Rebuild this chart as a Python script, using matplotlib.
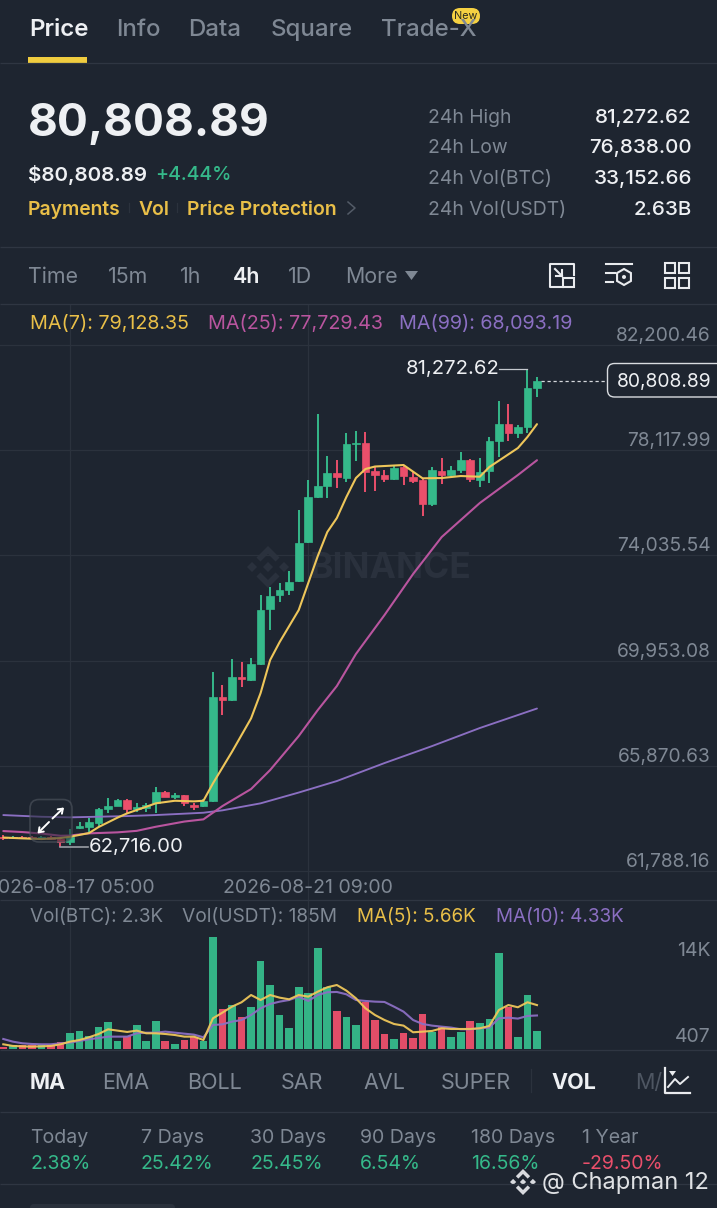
import matplotlib
matplotlib.use("Agg")
import matplotlib.pyplot as plt
from matplotlib.patches import FancyBboxPatch, Polygon, Rectangle, RegularPolygon
from matplotlib.transforms import Affine2D

# ---------- data ----------
candle_index = list(range(-7, 50))
opens = [63120, 63060, 63110, 63090, 63060, 63110, 63020,
         62912, 63443, 63482, 63637, 64192, 64320, 64541, 64192, 64219, 64414,
         64864, 64670, 64724, 64336, 64309, 64514, 68550, 68422, 69327, 69199,
         69820, 71954, 72497, 72692, 73052, 74554, 76313, 76739, 77232, 77050,
         78358, 78408, 77310, 77155, 76999, 77454, 77089, 76961, 76029, 77322,
         77166, 77349, 77737, 76961, 77322, 78474, 79122, 78796, 79006, 80520]
closes = [63060, 63120, 63070, 63050, 63110, 63040, 62900,
          63105, 63532, 63676, 64192, 64320, 64541, 64192, 64283, 64347, 64840,
          64670, 64724, 64414, 64283, 64503, 68550, 68422, 69327, 69226, 69820,
          71915, 72470, 72692, 73014, 74516, 76313, 76739, 77232, 77077, 78358,
          78408, 77283, 77155, 76999, 77415, 77116, 76934, 76029, 77349, 77166,
          77349, 77737, 76988, 77283, 78474, 79122, 78796, 79006, 80520, 80808.89]
highs = [63180, 63150, 63150, 63130, 63150, 63150, 63060,
         63416, 63699, 63831, 64219, 64607, 64580, 64570, 64437, 64414, 65058,
         64890, 64802, 64740, 64437, 64569, 69498, 69004, 70002, 69909, 70052,
         72497, 72820, 72975, 73441, 75796, 76961, 79522, 77880, 77737, 78785,
         78862, 78835, 77477, 77349, 77543, 77504, 77283, 77027, 77454, 77814,
         77504, 78059, 77776, 77814, 78618, 80027, 79910, 79095, 81272.62, 80970]
lows = [63000, 63020, 63030, 63020, 63030, 63010, 62716,
        62795, 63416, 63311, 63505, 64025, 64300, 64049, 64087, 64087, 64025,
        64650, 64569, 64320, 64153, 64283, 64475, 67840, 68395, 68915, 69172,
        69781, 71139, 72226, 72497, 73014, 74516, 76262, 76274, 76662, 76883,
        77698, 76507, 76545, 76883, 76961, 76767, 76844, 75563, 75963, 76805,
        77116, 77232, 76895, 76701, 76856, 77865, 78486, 78579, 78785, 80170]
volumes_k = [0.26, 0.55, 0.55, 0.55, 0.55, 0.55, 0.99,
             2.05, 2.39, 1.70, 2.85, 3.55, 1.02, 1.70, 3.07, 1.06, 3.62,
             1.06, 0.64, 1.19, 1.63, 1.02, 14.43, 5.12, 5.67, 4.10, 5.47,
             11.30, 8.23, 4.39, 2.78, 8.03, 7.26, 12.93, 7.94, 4.90, 4.10,
             3.11, 6.11, 3.75, 1.92, 1.28, 2.14, 1.50, 4.52, 2.27, 2.91,
             1.54, 2.27, 3.67, 3.42, 3.84, 12.38, 5.47, 1.54, 6.95, 2.30]

ma7_i = [-7, -5, -3, -1, 0, 2, 3, 5, 6, 8, 9, 11, 13, 14, 15, 17, 19, 20, 21, 22, 23, 24, 25, 26,
         27, 28, 29, 30, 31, 32, 35, 37, 39, 41, 43, 44, 47, 48, 49]
ma7 = [63086, 63055, 63028, 63067, 63117, 63261, 63494, 63862, 64025, 64282, 64414, 64514, 64491,
       64514, 65189, 66416, 67712, 68694, 69975, 70673, 71294, 71915, 72963, 74011, 74943, 75486,
       76301, 77038, 77388, 77485, 77543, 77027, 77038, 77116, 77089, 77465, 78203, 78630, 79128.35]
ma25_i = [-7, -5, -3, -1, 0, 2, 5, 7, 9, 12, 14, 16, 19, 21, 24, 26, 28, 30, 33, 36, 39, 43, 45, 47, 49]
ma25 = [63338, 63300, 63242, 63156, 63164, 63249, 63288, 63346, 63505, 63707, 63792, 64309, 64968,
        65706, 67025, 68034, 68966, 70208, 71721, 73313, 74748, 76068, 76611, 77155, 77729.43]
ma99_i = [-7, -3, 0, 6, 9, 14, 16, 20, 24, 28, 33, 38, 43, 49]
ma99 = [63959, 63893, 63870, 63920, 63959, 64049, 64142, 64414, 64833, 65279, 65977, 66637, 67336, 68093.19]

vol_ma5 = [0.64, 0.43, 0.38, 0.34, 0.38, 0.43, 0.64,
           0.98, 1.19, 1.54, 1.96, 2.56, 2.39, 2.22, 2.39, 2.05, 2.05,
           1.96, 1.83, 1.62, 1.62, 1.19, 3.97, 4.70, 5.46, 6.02, 6.95,
           6.31, 6.95, 6.61, 6.40, 6.95, 6.74, 7.38, 7.94, 8.23, 7.51,
           6.53, 5.25, 4.39, 3.75, 3.24, 3.03, 2.18, 2.26, 2.35, 2.69,
           2.60, 2.60, 2.60, 2.69, 2.99, 5.03, 5.67, 5.38, 6.02, 5.66]
vol_ma10 = [1.32, 0.98, 0.77, 0.68, 0.64, 0.64, 0.77,
            0.85, 1.07, 1.28, 1.45, 1.62, 1.62, 1.62, 2.05, 2.13, 2.13,
            2.26, 2.13, 2.00, 1.88, 1.54, 3.11, 3.20, 3.54, 3.75, 4.39,
            5.25, 5.80, 6.10, 6.31, 6.74, 6.19, 6.95, 7.30, 7.34, 7.04,
            6.31, 6.19, 6.10, 6.06, 5.46, 4.82, 3.75, 3.24, 3.03, 2.90,
            2.78, 2.56, 2.56, 2.69, 2.78, 3.97, 4.05, 3.93, 4.27, 4.33]

price_ticks = [82200.46, 78117.99, 74035.54, 69953.08, 65870.63, 61788.16]
price_tick_labels = ["82,200.46", "78,117.99", "74,035.54", "69,953.08", "65,870.63", "61,788.16"]
time_ticks = [0, 25]
time_labels = ["2026-08-17 05:00", "2026-08-21 09:00"]
vol_ticks = [14, 0.407]
vol_tick_labels = ["14K", "407"]

tabs = [("Price", 29, True), ("Info", 116, False), ("Data", 188, False), ("Square", 271, False), ("Trade-X", 381, False)]
stats = [("24h High", "81,272.62"), ("24h Low", "76,838.00"), ("24h Vol(BTC)", "33,152.66"), ("24h Vol(USDT)", "2.63B")]
intervals = [("Time", 28, False), ("15m", 108, False), ("1h", 180, False), ("4h", 233, True), ("1D", 288, False), ("More", 345, False)]
indicators = [("MA", 30, True), ("EMA", 102, False), ("BOLL", 187, False), ("SAR", 281, False), ("AVL", 363, False),
              ("SUPER", 441, False), ("VOL", 551, True)]
periods = [("Today", "2.38%", 30), ("7 Days", "25.42%", 141), ("30 Days", "25.45%", 250),
           ("90 Days", "6.54%", 360), ("180 Days", "16.56%", 471), ("1 Year", "-29.50%", 582)]

# ---------- style ----------
BG = "#1e2530"
GRID = "#2b323d"
LINE = "#2f3642"
GREEN = "#35b98a"
RED = "#ea4f6b"
GOLD = "#e9bf48"
PINK = "#b9559f"
PURPLE = "#8b6fc2"
GREY = "#7f8894"
WHITE = "#eef0f3"
WM = "#2a313d"
W, H = 717, 1208
plt.rcParams["font.family"] = ["Inter", "DejaVu Sans"]

fig = plt.figure(figsize=(W / 100, H / 100), dpi=100, facecolor=BG)


def rect(top, bottom):
    return [0, 1 - bottom / H, 1, (bottom - top) / H]


def layer(z):
    a = fig.add_axes([0, 0, 1, 1], zorder=z)
    a.set_xlim(0, W)
    a.set_ylim(H, 0)
    a.axis("off")
    a.patch.set_alpha(0)
    return a


def binance_logo(a, cx, cy, r, color):
    """Four-way diamond mark with chevrons, r = half-size in px."""
    def dia(x, y, s):
        a.add_patch(Polygon([(x, y - s), (x + s, y), (x, y + s), (x - s, y)], closed=True, fc=color, ec="none"))
    dia(cx, cy, r * 0.24)
    dia(cx - r * 0.76, cy, r * 0.24)
    dia(cx + r * 0.76, cy, r * 0.24)
    for sgn in (-1, 1):
        a.add_patch(Polygon([(cx - r * 0.55, cy + sgn * r * 0.45), (cx, cy + sgn * r), (cx + r * 0.55, cy + sgn * r * 0.45),
                             (cx + r * 0.36, cy + sgn * r * 0.26), (cx, cy + sgn * r * 0.62), (cx - r * 0.36, cy + sgn * r * 0.26)],
                            closed=True, fc=color, ec="none"))


# ---------- background layer (watermark) ----------
bg = layer(0)
binance_logo(bg, 268, 567, 21, WM)
bg.text(390, 568, "BINANCE", color=WM, fontsize=25.5, fontweight="bold", ha="center", va="center")

# ---------- price chart ----------
PX_TOP, PX_BOT = 305, 900
per_px = (price_ticks[0] - price_ticks[-1]) / (871 - 345)
ax = fig.add_axes(rect(PX_TOP, PX_BOT), zorder=1)
ax.patch.set_alpha(0)
xlim = (-70 / 9.53, (W - 70) / 9.53)
ax.set_xlim(*xlim)
ax.set_ylim(price_ticks[-1] - (PX_BOT - 871) * per_px, price_ticks[0] + (345 - PX_TOP) * per_px)
for s in ax.spines.values():
    s.set_visible(False)

ax.set_axisbelow(True)
ax.grid(True, color=GRID, lw=0.9)
ax.set_yticks(price_ticks)
ax.set_yticklabels(price_tick_labels, color=GREY, fontsize=13.8, ha="right", va="bottom")
ax.yaxis.tick_right()
ax.tick_params(axis="y", length=0, pad=-4.5)
ax.set_xticks(time_ticks)
ax.set_xticklabels(time_labels, color=GREY, fontsize=14)
ax.tick_params(axis="x", length=0, pad=-15, colors=GREY)

colors = [GREEN if c >= o else RED for o, c in zip(opens, closes)]
ax.vlines(candle_index, lows, highs, colors=colors, lw=1.4, zorder=3)
ax.bar(candle_index, [c - o for o, c in zip(opens, closes)], bottom=opens, width=0.8,
       color=colors, edgecolor=colors, lw=0.5, zorder=3)
ax.plot(ma99_i, ma99, color=PURPLE, lw=1.35, zorder=4, solid_capstyle="round")
ax.plot(ma25_i, ma25, color=PINK, lw=1.5, zorder=4, solid_capstyle="round")
ax.plot(ma7_i, ma7, color="#eec65a", lw=1.5, zorder=5, solid_capstyle="round")

# high / low / last annotations
hi_i = candle_index[highs.index(max(highs))]
lo_i = candle_index[lows.index(min(lows))]
ax.plot([hi_i - 3, hi_i], [max(highs)] * 2, color="#c5c9cf", lw=0.9, zorder=6)
ax.text(hi_i - 2.9, max(highs), "81,272.62", color=WHITE, fontsize=14.6, ha="right", va="center", zorder=6)
ax.plot([lo_i, lo_i + 2.9], [min(lows)] * 2, color="#9a9ea5", lw=1.2, zorder=6)
ax.text(lo_i + 2.95, min(lows), "62,716.00", color=WHITE, fontsize=14.6, ha="left", va="center", zorder=6)
ax.plot([49.4, 56.4], [closes[-1]] * 2, color="#d5d8dc", lw=0.9, ls=(0, (2.6, 2.2)), zorder=6)

# ---------- volume chart ----------
VOL_TOP, VOL_BOT = 900, 1049.3
vax = fig.add_axes(rect(VOL_TOP, VOL_BOT), zorder=1)
vax.patch.set_alpha(0)
vax.set_xlim(*xlim)
vax.set_ylim(0, (VOL_BOT - VOL_TOP) * 0.128)
for s in vax.spines.values():
    s.set_visible(False)
vax.set_axisbelow(True)
vax.set_xticks(time_ticks)
vax.set_xticklabels([])
vax.grid(True, axis="x", color=GRID, lw=0.9)
vax.tick_params(axis="x", length=0)
vax.bar(candle_index, volumes_k, width=0.8, color=colors, lw=0, zorder=3, alpha=0.97)
vax.plot(candle_index, vol_ma10, color=PURPLE, lw=1.5, zorder=4, alpha=0.95)
vax.plot(candle_index, vol_ma5, color="#eec65a", lw=1.5, zorder=5, alpha=0.95)
vax.set_yticks(vol_ticks)
vax.set_yticklabels(vol_tick_labels, color=GREY, fontsize=14, ha="right")
vax.yaxis.tick_right()
vax.tick_params(axis="y", length=0, pad=-4.5)
labs = vax.get_yticklabels()
labs[0].set_va("top")
labs[1].set_va("bottom")
labs[0].set_transform(labs[0].get_transform() + Affine2D().translate(0, -2))

# ---------- UI overlay ----------
ui = layer(2)


def hline(y, x0=0, x1=W, c=LINE, lw=0.9):
    ui.plot([x0, x1], [y, y], color=c, lw=lw, solid_capstyle="butt")


def put(x, y, s, color, size, weight="normal", ha="left"):
    ui.text(x, y + 2, s, color=color, fontsize=size, fontweight=weight, ha=ha, va="center")


for y in (63, 247, 304, 900, 1050, 1112, 1184):
    hline(y)

# tabs
for name, x, active in tabs:
    put(x, 28, name, WHITE if active else GREY, 17.3, "semibold" if active else "medium")
ui.add_patch(Rectangle((28, 57), 59, 6, fc="#f0cc3f", ec="none"))
ui.add_patch(FancyBboxPatch((452, 8), 28, 16, boxstyle="round,pad=0,rounding_size=8", fc="#f5d142", ec="none"))
ui.text(466, 16, "New", color="#2a2a20", fontsize=7.8, ha="center", va="center")

# headline price
put(28, 122, "80,808.89", WHITE, 33, "bold")
put(28, 173, "$80,808.89", WHITE, 14.8, "semibold")
put(155, 173, "+4.44%", GREEN, 14, "medium")
put(28, 208, "Payments", GOLD, 13.9, "semibold")
ui.plot([129, 129], [203, 212], color=GRID, lw=0.9)
put(139, 208, "Vol", GOLD, 13.9, "semibold")
ui.plot([177, 177], [203, 212], color=GRID, lw=0.9)
put(187, 208, "Price Protection", GOLD, 13.9, "semibold")
ui.plot([348, 355, 348], [202, 208, 214], color="#535b67", lw=1.1)

for (lab, val), y in zip(stats, (116, 146, 177, 208)):
    put(428, y, lab, GREY, 13.9)
    put(692, y, val, WHITE, 14.8, "medium", "right")

# intervals
for name, x, active in intervals:
    put(x, 275, name, WHITE if active else GREY, 15.4, "semibold" if active else "normal")
ui.add_patch(Polygon([(405, 271), (418, 271), (411.5, 280)], closed=True, fc=GREY, ec="none"))

# toolbar icons
IC = "#e9ebee"
lw_i = 1.5
ui.plot([563, 549.5, 549.5, 573.5, 573.5], [287, 287, 263.5, 263.5, 275], color=IC, lw=lw_i)
ui.add_patch(Rectangle((563, 278), 10.5, 9, fc="none", ec=IC, lw=lw_i))
ui.plot([555, 562], [269, 276], color=IC, lw=lw_i)
ui.plot([562, 562, 556], [270, 276, 276], color=IC, lw=lw_i)
ui.plot([606, 632], [263.5, 263.5], color=IC, lw=lw_i)
ui.plot([606, 615], [273, 273], color=IC, lw=lw_i)
ui.plot([606, 613], [282, 282], color=IC, lw=lw_i)
ui.add_patch(RegularPolygon((624, 277), 6, radius=8, fc="none", ec=IC, lw=lw_i))
ui.add_patch(RegularPolygon((624, 277), 6, radius=2.2, fc=IC, ec="none"))
for x0 in (665, 679):
    for y0 in (263, 278):
        ui.add_patch(Rectangle((x0, y0), 10, 9.5, fc="none", ec=IC, lw=lw_i))

# MA legend
put(30, 322, "MA(7): 79,128.35", GOLD, 14.2)
put(208, 322, "MA(25): 77,729.43", PINK, 14.2)
put(399, 322, "MA(99): 68,093.19", PURPLE, 14.2)

# last-price tag
ui.add_patch(FancyBboxPatch((607.5, 363.5), 120, 33.5, boxstyle="round,pad=0,rounding_size=7", fc=BG, ec="#d9dce0", lw=1.0))
put(711, 379.5, "80,808.89", WHITE, 13.9, "normal", "right")

# expand button
ui.add_patch(FancyBboxPatch((30, 799.5), 42, 42.5, boxstyle="round,pad=0,rounding_size=9", fc=BG, alpha=0.55,
                            ec="#565c66", lw=1.2))
ui.annotate("", xy=(64, 807.5), xytext=(52.5, 818.5), arrowprops=dict(arrowstyle="->,head_width=0.22,head_length=0.3", color="white", lw=1.4, shrinkA=0, shrinkB=0))
ui.annotate("", xy=(37.5, 833.5), xytext=(49, 822), arrowprops=dict(arrowstyle="->,head_width=0.22,head_length=0.3", color="white", lw=1.4, shrinkA=0, shrinkB=0))

# volume legend
put(30, 915, "Vol(BTC): 2.3K", GREY, 13.6)
put(182, 915, "Vol(USDT): 185M", GREY, 13.8)
put(357, 915, "MA(5): 5.66K", GOLD, 13.6)
put(496, 915, "MA(10): 4.33K", PURPLE, 13.6)

# indicator tabs
for name, x, active in indicators:
    put(x, 1081, name, WHITE if active else GREY, 15.5, "bold" if active else "normal")
ui.plot([531, 531], [1069, 1092], color=GRID, lw=0.9)
put(635, 1081, "M/", "#4e5662", 15.5)
ui.add_patch(Rectangle((661, 1064), 30, 34, fc=BG, ec="none"))
ui.plot([664.5, 664.5, 690], [1068, 1093, 1093], color=IC, lw=1.6)
ui.plot([668, 675, 680, 688], [1087, 1079, 1084, 1077], color=IC, lw=1.4)
ui.add_patch(Polygon([(669, 1071), (676, 1071), (672.5, 1076)], closed=True, fc=IC, ec="none"))

# period performance
for lab, val, x in periods:
    put(x, 1136, lab, GREY, 14.1)
    put(x, 1162, val, RED if val.startswith("-") else GREEN, 14)

# footer
ui.add_patch(FancyBboxPatch((30, 1204), 145, 8, boxstyle="round,pad=0,rounding_size=4", fc="#2a313c", ec="none"))
binance_logo(ui, 523, 1182, 13, "#d8dade")
put(542, 1181, "@ Chapman 12", "#dfe1e4", 17)

fig.savefig("out.png", dpi=100, facecolor=BG)
